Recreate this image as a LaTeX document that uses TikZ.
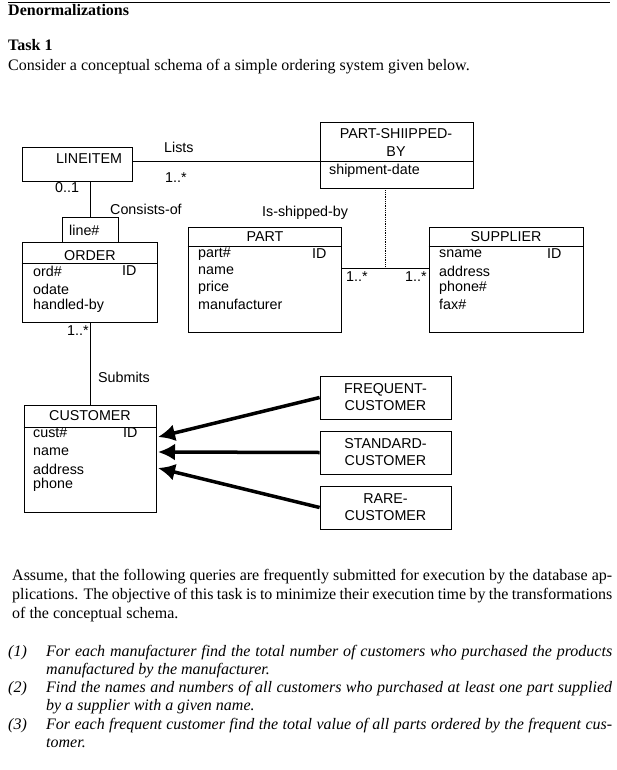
\documentclass[tikz,border=0pt]{standalone}
\usepackage{fontspec}
\setmainfont{Liberation Serif}
\newfontfamily\diagfont{Liberation Sans}
\usetikzlibrary{arrows.meta}
\tikzset{
  box/.style={draw=black,line width=0.8pt,inner sep=0pt},
  lbl/.style={font=\diagfont\fontsize{14.3}{17}\selectfont,inner sep=0pt},
  attr/.style={lbl,anchor=west},
  isa/.style={line width=3.5pt,-{Latex[length=17pt,width=17pt]}},
  body/.style={inner sep=0pt,anchor=north west,font=\fontsize{16}{19}\selectfont},
  item/.style={body,font=\itshape\fontsize{16}{18.5}\selectfont}
}
\begin{document}
\begin{tikzpicture}[x=1pt,y=-1pt]
  \useasboundingbox (0,0) rectangle (617,770);
  % heading
  \draw[line width=0.6pt] (8,2) -- (610,2);
  \node[body,font=\bfseries\fontsize{16}{19}\selectfont] (head) at (8,4) {Denormalizations};
  \node[body,font=\bfseries\fontsize{16}{19}\selectfont] (task) at (8,39) {Task 1};
  \node[body] (intro) at (8,59) {Consider a conceptual schema of a simple ordering system given below.};

  % boxes
  \node[box,minimum width=110pt,minimum height=34pt] (lineitem) at (77,164) {};
  \node[lbl] at (89,159) {LINEITEM};
  \node[box,minimum width=153pt,minimum height=66pt] (psb) at (396.5,155) {};
  \node[lbl] at (396,134) {PART-SHIIPPED-};
  \node[lbl] at (396,152) {BY};
  \node[attr] at (329,171) {shipment-date};

  \node[box,minimum width=56pt,minimum height=25pt] (line) at (90,229.5) {};
  \node[attr] at (69,230) {line\#};
  \node[box,minimum width=135pt,minimum height=80pt] (order) at (89.5,282) {};
  \draw[line width=0.8pt] (order.west |- 0,263) -- (order.east |- 0,263);
  \node[lbl] at (90,256) {ORDER};
  \node[attr] at (33,271) {ord\#};
  \node[attr] at (122,271) {ID};
  \node[attr] at (33,289) {odate};
  \node[attr] at (33,306) {handled-by};

  \node[box,minimum width=153pt,minimum height=105pt] (part) at (264.5,279.5) {};
  \draw[line width=0.8pt] (part.west |- 0,246) -- (part.east |- 0,246);
  \node[lbl] at (265,237) {PART};
  \node[attr] at (198,254) {part\#};
  \node[attr] at (312,254) {ID};
  \node[attr] at (198,271) {name};
  \node[attr] at (198,288) {price};
  \node[attr] at (198,304) {manufacturer};

  \node[box,minimum width=154pt,minimum height=105pt] (supplier) at (506,279.5) {};
  \draw[line width=0.8pt] (supplier.west |- 0,246) -- (supplier.east |- 0,246);
  \node[lbl] at (506,237) {SUPPLIER};
  \node[attr] at (439,254) {sname};
  \node[attr] at (547,254) {ID};
  \node[attr] at (439,271) {address};
  \node[attr] at (439,288) {phone\#};
  \node[attr] at (439,304) {fax\#};

  \node[box,minimum width=132pt,minimum height=107pt] (customer) at (90,458.5) {};
  \draw[line width=0.8pt] (customer.west |- 0,427) -- (customer.east |- 0,427);
  \node[lbl] at (90,416) {CUSTOMER};
  \node[attr] at (33,433) {cust\#};
  \node[attr] at (123,433) {ID};
  \node[attr] at (33,452) {name};
  \node[attr] at (33,469) {address};
  \node[attr] at (33,485) {phone};

  \node[box,minimum width=131pt,minimum height=43pt,lbl,align=center] (freq) at (385.5,397.5) {FREQUENT-\\CUSTOMER};
  \node[box,minimum width=131pt,minimum height=43pt,lbl,align=center] (std) at (385.5,452.5) {STANDARD-\\CUSTOMER};
  \node[box,minimum width=131pt,minimum height=43pt,lbl,align=center] (rare) at (385.5,507.5) {RARE-\\CUSTOMER};

  % links
  \coordinate (lt) at (lineitem.east |- 0,161);
  \draw[line width=0.8pt] (lt) -- (lt -| psb.east);
  \node[attr] at (164,147) {Lists};
  \node[attr] at (165,178) {1..*};
  \draw[line width=0.8pt] (lineitem.south -| line.north) -- (line.north);
  \node[attr] at (55,188) {0..1};
  \node[attr] at (110,209) {Consists-of};
  \draw[line width=0.8pt] (order.south -| customer.north) -- (customer.north);
  \node[attr] at (67,331) {1..*};
  \node[attr] at (98,377) {Submits};
  \coordinate (ps) at (part.east |- 0,268);
  \coordinate (mid) at (385,268);
  \draw[line width=0.8pt] (ps) -- (ps -| supplier.west);
  \draw[densely dotted,line width=0.8pt] (psb.south -| mid) -- (mid);
  \node[attr] at (346,277) {1..*};
  \node[attr] at (405,277) {1..*};
  \node[attr] at (262,213) {Is-shipped-by};

  % generalisation
  \coordinate (c1) at (158,437);
  \coordinate (c2) at (158,452);
  \coordinate (c3) at (158,468);
  \draw[isa] (freq.west) -- (c1);
  \draw[isa] (std.west) -- (c2);
  \draw[isa] (rare.west) -- (c3);

  % text
  \node[body,text width=600pt,align=justify] (para) at (12,569) {Assume, that the following queries are frequently submitted for execution by the database applications. The objective of this task is to minimize their execution time by the transformations of the conceptual schema.};
  \node[item] (n1) at (8,645) {(1)};
  \node[item,text width=566pt,align=justify] (q1) at (46,645) {For each manufacturer find the total number of customers who purchased the products manufactured by the manufacturer.};
  \node[item] (n2) at (8,681) {(2)};
  \node[item,text width=566pt,align=justify] (q2) at (46,681) {Find the names and numbers of all customers who purchased at least one part supplied by a supplier with a given name.};
  \node[item] (n3) at (8,718) {(3)};
  \node[item,text width=566pt,align=justify] (q3) at (46,718) {For each frequent customer find the total value of all parts ordered by the frequent customer.};
\end{tikzpicture}
\end{document}
